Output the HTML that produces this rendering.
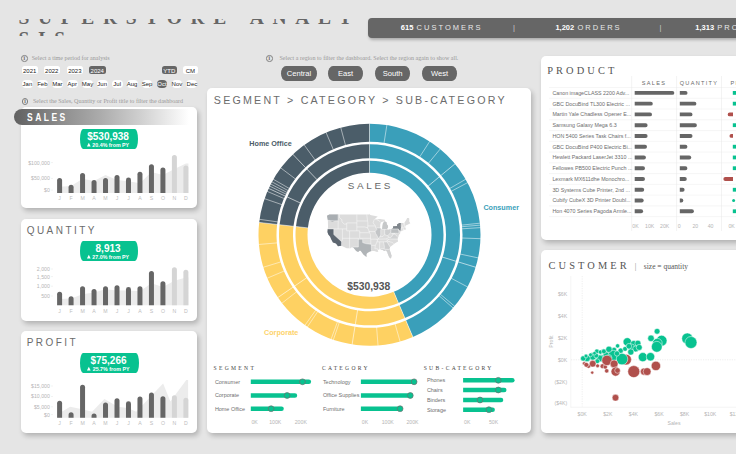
<!DOCTYPE html>
<html><head><meta charset="utf-8"><title>Superstore Analysis</title>
<style>
*{margin:0;padding:0;box-sizing:border-box}
html,body{width:736px;height:454px;overflow:hidden;background:#e5e5e5;font-family:"Liberation Sans",Arial,sans-serif}
.abs{position:absolute}
.card{position:absolute;background:#fff;border-radius:5px;box-shadow:2px 3px 5px rgba(0,0,0,0.22)}
.title{position:absolute;left:0;top:19px;width:370px;height:17px;overflow:hidden}
.title div{position:absolute;left:18.4px;top:-12.2px;width:400px;font-family:"Liberation Serif",serif;font-weight:bold;font-size:19.5px;line-height:21.2px;letter-spacing:8.7px;word-spacing:2.2px;color:#666;white-space:nowrap}
.kpi{position:absolute;left:368px;top:17.5px;width:380px;height:20.5px;background:#666;border-radius:4px;box-shadow:1px 2px 3px rgba(0,0,0,0.25);color:#fff;font-size:7.5px}
.kpi span{position:absolute;top:5.5px;white-space:nowrap;letter-spacing:2px;color:#e8e8e8}
.kpi b{letter-spacing:0;color:#fff;font-weight:bold;margin-right:-0.8px}
.info{position:absolute;font-family:"Liberation Serif",serif;font-size:6.07px;color:#999;white-space:nowrap}
.ic{position:absolute;width:6.6px;height:6.6px;border:0.8px solid #808080;border-radius:50%;font-family:"Liberation Serif",serif;font-size:5.5px;line-height:5.6px;text-align:center;color:#666;font-weight:bold}
.btn{position:absolute;height:8.1px;background:#fff;border-radius:2.5px;font-size:6px;line-height:9px;text-align:center;color:#222}
.btn.on{background:#666;color:#fff}
.rb{position:absolute;top:66.1px;height:14.9px;width:35.2px;background:#666;border-radius:5px/7.4px;color:#fff;font-size:7.6px;line-height:16.6px;text-align:center}
.ktitle{position:absolute;font-size:10.5px;letter-spacing:3.6px;color:#595959}
.pill{position:absolute;left:14px;top:108.6px;width:175px;height:16.4px;border-radius:8px 0 0 8px;background:linear-gradient(90deg,#616161 0%,#6f6f6f 9%,#8c8c8c 26%,#ababab 49%,#cfcfcf 72%,#f1f1f1 92%,#fff 100%);}
.pill span{position:absolute;left:12.6px;top:3px;font-size:10.4px;font-weight:bold;letter-spacing:3px;color:#fff;transform:scaleX(0.82);transform-origin:0 0}
.badge{position:absolute;background:#08c290;border-radius:3px/10px;color:#fff;text-align:center}
.bb{font-weight:bold;font-size:10px;line-height:10px;margin-top:3px;padding-right:2px}
.bs{font-weight:bold;font-size:5.3px;line-height:6px;margin-top:-0.2px;padding-right:2.4px}.bs svg{position:static;display:inline-block;width:3.6px;height:3.5px;margin-right:2.1px;vertical-align:-0.1px;overflow:visible}
svg{position:absolute;left:0;top:0}
svg text{font-family:"Liberation Sans",Arial,sans-serif}
.yl{font-size:5.2px;fill:#b5b5b5}
.xl{font-size:5.2px;fill:#bdbdbd}
.pn{font-size:5.34px;fill:#6d6d6d}
.th{font-size:5.6px;fill:#6a6a6a;letter-spacing:1.3px}
.st{font-family:"Liberation Serif",serif !important;font-size:5.6px;fill:#444;letter-spacing:2.3px}
.bl{font-size:5.45px;fill:#6f6f6f}
.kt{font-size:10px;letter-spacing:2.45px;fill:#6c6c6c}
.sert{font-family:"Liberation Serif",serif !important;font-size:10.4px;letter-spacing:3.1px;fill:#555}
.sertitle{position:absolute;font-family:"Liberation Serif",serif;font-size:10.5px;letter-spacing:5.4px;color:#555}
</style></head><body>

<div class="title"><div>SUPERSTORE ANALY<br>SIS</div></div>
<div class="kpi"><span style="left:32.8px"><b>615</b> CUSTOMERS</span><span style="left:145px;color:#ccc">|</span><span style="left:187.4px"><b>1,202</b> ORDERS</span><span style="left:291.5px;color:#ccc">|</span><span style="left:327.3px"><b>1,313</b> PRODUCTS</span></div>
<div class="ic" style="left:21px;top:55.2px">i</div><div class="info" style="left:31.7px;top:55.2px">Select a time period for analysis</div>
<div class="btn" style="left:21.5px;top:66.3px;width:16.3px;line-height:10px">2021</div>
<div class="btn" style="left:44px;top:66.3px;width:15.6px;line-height:10px">2022</div>
<div class="btn" style="left:67px;top:66.3px;width:15.7px;line-height:10px">2023</div>
<div class="btn on" style="left:88.8px;top:66.3px;width:17.0px;line-height:10px">2024</div>
<div class="btn on" style="left:161.8px;top:66.3px;width:15.0px;line-height:10px">YTD</div>
<div class="btn" style="left:182.9px;top:66.3px;width:14.9px;line-height:10px">CM</div>
<div class="btn" style="left:22.00px;top:79.8px;width:10.9px;border-radius:4px">Jan</div>
<div class="btn" style="left:36.95px;top:79.8px;width:10.9px;border-radius:4px">Feb</div>
<div class="btn" style="left:51.90px;top:79.8px;width:10.9px;border-radius:4px">Mar</div>
<div class="btn" style="left:66.85px;top:79.8px;width:10.9px;border-radius:4px">Apr</div>
<div class="btn" style="left:81.80px;top:79.8px;width:10.9px;border-radius:4px">May</div>
<div class="btn" style="left:96.75px;top:79.8px;width:10.9px;border-radius:4px">Jun</div>
<div class="btn" style="left:111.70px;top:79.8px;width:10.9px;border-radius:4px">Jul</div>
<div class="btn" style="left:126.65px;top:79.8px;width:10.9px;border-radius:4px">Aug</div>
<div class="btn" style="left:141.60px;top:79.8px;width:10.9px;border-radius:4px">Sep</div>
<div class="btn on" style="left:156.55px;top:79.8px;width:10.9px;border-radius:4px">Oct</div>
<div class="btn" style="left:171.50px;top:79.8px;width:10.9px;border-radius:4px">Nov</div>
<div class="btn" style="left:186.45px;top:79.8px;width:10.9px;border-radius:4px">Dec</div>
<div class="ic" style="left:21.8px;top:98.3px">i</div><div class="info" style="left:33px;top:98.2px">Select the Sales, Quantity or Profit title to filter the dashboard</div>
<div class="card" style="left:20.5px;top:107px;width:176.5px;height:101.4px"></div>
<div class="card" style="left:20.5px;top:219.1px;width:176.5px;height:101.6px"></div>
<div class="card" style="left:20.7px;top:331.2px;width:176.3px;height:101.9px"></div>
<div class="card" style="left:207px;top:88.3px;width:323.5px;height:344.4px"></div>
<div class="card" style="left:540.8px;top:56.3px;width:230px;height:183.9px"></div>
<div class="card" style="left:540.9px;top:250px;width:230px;height:182.5px"></div>
<div class="ic" style="left:266px;top:55.3px">i</div><div class="info" style="left:279.4px;top:55.4px">Select a region to filter the dashboard. Select the region again to show all.</div>
<div class="rb" style="left:281.4px">Central</div>
<div class="rb" style="left:328px">East</div>
<div class="rb" style="left:375px">South</div>
<div class="rb" style="left:422px">West</div>
<div class="pill"><span>SALES</span></div>
<svg width="736" height="454" viewBox="0 0 736 454">
<polygon points="57.1,192.9 59.6,186.7 71.1,186.0 82.6,178.7 94.0,181.0 105.5,175.0 117.0,180.0 128.5,181.3 140.0,183.3 151.4,172.0 162.9,175.0 174.4,169.0 185.9,163.5 188.4,163.5 188.4,192.9" fill="#ececec"/>
<path d="M57.10,192.90 V180.40 A2.50,2.50 0 0 1 62.10,180.40 V192.90 Z" fill="#666666"/>
<path d="M68.58,192.90 V187.30 A2.50,2.50 0 0 1 73.58,187.30 V192.90 Z" fill="#666666"/>
<path d="M80.06,192.90 V175.40 A2.50,2.50 0 0 1 85.06,175.40 V192.90 Z" fill="#666666"/>
<path d="M91.54,192.90 V182.50 A2.50,2.50 0 0 1 96.54,182.50 V192.90 Z" fill="#666666"/>
<path d="M103.02,192.90 V180.40 A2.50,2.50 0 0 1 108.02,180.40 V192.90 Z" fill="#666666"/>
<path d="M114.50,192.90 V177.60 A2.50,2.50 0 0 1 119.50,177.60 V192.90 Z" fill="#666666"/>
<path d="M125.98,192.90 V179.90 A2.50,2.50 0 0 1 130.98,179.90 V192.90 Z" fill="#666666"/>
<path d="M137.46,192.90 V174.30 A2.50,2.50 0 0 1 142.46,174.30 V192.90 Z" fill="#666666"/>
<path d="M148.94,192.90 V166.70 A2.50,2.50 0 0 1 153.94,166.70 V192.90 Z" fill="#666666"/>
<path d="M160.42,192.90 V170.00 A2.50,2.50 0 0 1 165.42,170.00 V192.90 Z" fill="#666666"/>
<path d="M171.90,192.90 V157.40 A2.50,2.50 0 0 1 176.90,157.40 V192.90 Z" fill="#d5d5d5"/>
<path d="M183.38,192.90 V168.00 A2.50,2.50 0 0 1 188.38,168.00 V192.90 Z" fill="#d5d5d5"/>
<text x="49.8" y="164.5" class="yl" text-anchor="end">$100,000</text>
<line x1="51" x2="53" y1="162.6" y2="162.6" stroke="#e4e4e4" stroke-width="0.5"/>
<text x="49.8" y="180.3" class="yl" text-anchor="end">$50,000</text>
<line x1="51" x2="53" y1="178.4" y2="178.4" stroke="#e4e4e4" stroke-width="0.5"/>
<text x="49.8" y="192.0" class="yl" text-anchor="end">$0</text>
<line x1="51" x2="53" y1="190.1" y2="190.1" stroke="#e4e4e4" stroke-width="0.5"/>
<text x="59.6" y="199.9" class="xl" text-anchor="middle">J</text>
<text x="71.1" y="199.9" class="xl" text-anchor="middle">F</text>
<text x="82.6" y="199.9" class="xl" text-anchor="middle">M</text>
<text x="94.0" y="199.9" class="xl" text-anchor="middle">A</text>
<text x="105.5" y="199.9" class="xl" text-anchor="middle">M</text>
<text x="117.0" y="199.9" class="xl" text-anchor="middle">J</text>
<text x="128.5" y="199.9" class="xl" text-anchor="middle">J</text>
<text x="140.0" y="199.9" class="xl" text-anchor="middle">A</text>
<text x="151.4" y="199.9" class="xl" text-anchor="middle">S</text>
<text x="162.9" y="199.9" class="xl" text-anchor="middle">O</text>
<text x="174.4" y="199.9" class="xl" text-anchor="middle">N</text>
<text x="185.9" y="199.9" class="xl" text-anchor="middle">D</text>
<polygon points="57.1,305.2 59.6,299.1 71.1,298.6 82.6,294.2 94.0,292.5 105.5,289.3 117.0,290.6 128.5,290.6 140.0,291.3 151.4,283.2 162.9,286.9 174.4,280.8 185.9,277.6 188.4,277.6 188.4,305.2" fill="#ececec"/>
<path d="M57.10,305.20 V294.30 A2.50,2.50 0 0 1 62.10,294.30 V305.20 Z" fill="#666666"/>
<path d="M68.58,305.20 V298.70 A2.50,2.50 0 0 1 73.58,298.70 V305.20 Z" fill="#666666"/>
<path d="M80.06,305.20 V288.70 A2.50,2.50 0 0 1 85.06,288.70 V305.20 Z" fill="#666666"/>
<path d="M91.54,305.20 V291.40 A2.50,2.50 0 0 1 96.54,291.40 V305.20 Z" fill="#666666"/>
<path d="M103.02,305.20 V288.70 A2.50,2.50 0 0 1 108.02,288.70 V305.20 Z" fill="#666666"/>
<path d="M114.50,305.20 V287.70 A2.50,2.50 0 0 1 119.50,287.70 V305.20 Z" fill="#666666"/>
<path d="M125.98,305.20 V289.40 A2.50,2.50 0 0 1 130.98,289.40 V305.20 Z" fill="#666666"/>
<path d="M137.46,305.20 V288.70 A2.50,2.50 0 0 1 142.46,288.70 V305.20 Z" fill="#666666"/>
<path d="M148.94,305.20 V273.50 A2.50,2.50 0 0 1 153.94,273.50 V305.20 Z" fill="#666666"/>
<path d="M160.42,305.20 V283.80 A2.50,2.50 0 0 1 165.42,283.80 V305.20 Z" fill="#666666"/>
<path d="M171.90,305.20 V269.80 A2.50,2.50 0 0 1 176.90,269.80 V305.20 Z" fill="#d5d5d5"/>
<path d="M183.38,305.20 V272.30 A2.50,2.50 0 0 1 188.38,272.30 V305.20 Z" fill="#d5d5d5"/>
<text x="49.8" y="270.9" class="yl" text-anchor="end">2,000</text>
<line x1="51" x2="53" y1="269.0" y2="269.0" stroke="#e4e4e4" stroke-width="0.5"/>
<text x="49.8" y="278.5" class="yl" text-anchor="end">1,500</text>
<line x1="51" x2="53" y1="276.6" y2="276.6" stroke="#e4e4e4" stroke-width="0.5"/>
<text x="49.8" y="288.1" class="yl" text-anchor="end">1,000</text>
<line x1="51" x2="53" y1="286.2" y2="286.2" stroke="#e4e4e4" stroke-width="0.5"/>
<text x="49.8" y="297.9" class="yl" text-anchor="end">500</text>
<line x1="51" x2="53" y1="296.0" y2="296.0" stroke="#e4e4e4" stroke-width="0.5"/>
<text x="59.6" y="312.6" class="xl" text-anchor="middle">J</text>
<text x="71.1" y="312.6" class="xl" text-anchor="middle">F</text>
<text x="82.6" y="312.6" class="xl" text-anchor="middle">M</text>
<text x="94.0" y="312.6" class="xl" text-anchor="middle">A</text>
<text x="105.5" y="312.6" class="xl" text-anchor="middle">M</text>
<text x="117.0" y="312.6" class="xl" text-anchor="middle">J</text>
<text x="128.5" y="312.6" class="xl" text-anchor="middle">J</text>
<text x="140.0" y="312.6" class="xl" text-anchor="middle">A</text>
<text x="151.4" y="312.6" class="xl" text-anchor="middle">S</text>
<text x="162.9" y="312.6" class="xl" text-anchor="middle">O</text>
<text x="174.4" y="312.6" class="xl" text-anchor="middle">N</text>
<text x="185.9" y="312.6" class="xl" text-anchor="middle">D</text>
<polygon points="57.1,417.8 57.1,411.5 62.8,411.2 70.1,406.8 82.4,409.2 92.1,411.7 104.4,399.0 117.8,406.8 127.6,408.0 136.2,411.7 146.0,401.4 163.1,383.6 170.4,401.4 186.3,379.9 188.1,380.0 188.1,417.8" fill="#ececec"/>
<path d="M57.10,417.80 V403.20 A2.50,2.50 0 0 1 62.10,403.20 V417.80 Z" fill="#666666"/>
<path d="M68.58,417.80 V414.70 A2.50,2.50 0 0 1 73.58,414.70 V417.80 Z" fill="#666666"/>
<path d="M80.06,417.80 V387.30 A2.50,2.50 0 0 1 85.06,387.30 V417.80 Z" fill="#666666"/>
<path d="M91.54,417.80 V416.10 A2.50,2.50 0 0 1 96.54,416.10 V417.80 Z" fill="#666666"/>
<path d="M103.02,417.80 V404.90 A2.50,2.50 0 0 1 108.02,404.90 V417.80 Z" fill="#666666"/>
<path d="M114.50,417.80 V400.70 A2.50,2.50 0 0 1 119.50,400.70 V417.80 Z" fill="#666666"/>
<path d="M125.98,417.80 V403.70 A2.50,2.50 0 0 1 130.98,403.70 V417.80 Z" fill="#666666"/>
<path d="M137.46,417.80 V399.00 A2.50,2.50 0 0 1 142.46,399.00 V417.80 Z" fill="#666666"/>
<path d="M148.94,417.80 V395.10 A2.50,2.50 0 0 1 153.94,395.10 V417.80 Z" fill="#666666"/>
<path d="M160.42,417.80 V398.80 A2.50,2.50 0 0 1 165.42,398.80 V417.80 Z" fill="#666666"/>
<path d="M171.90,417.80 V397.80 A2.50,2.50 0 0 1 176.90,397.80 V417.80 Z" fill="#d5d5d5"/>
<path d="M183.38,417.80 V400.20 A2.50,2.50 0 0 1 188.38,400.20 V417.80 Z" fill="#d5d5d5"/>
<text x="49.8" y="387.9" class="yl" text-anchor="end">$15,000</text>
<line x1="51" x2="53" y1="386.0" y2="386.0" stroke="#e4e4e4" stroke-width="0.5"/>
<text x="49.8" y="398.4" class="yl" text-anchor="end">$10,000</text>
<line x1="51" x2="53" y1="396.5" y2="396.5" stroke="#e4e4e4" stroke-width="0.5"/>
<text x="49.8" y="408.7" class="yl" text-anchor="end">$5,000</text>
<line x1="51" x2="53" y1="406.8" y2="406.8" stroke="#e4e4e4" stroke-width="0.5"/>
<text x="49.8" y="416.5" class="yl" text-anchor="end">$0</text>
<line x1="51" x2="53" y1="414.6" y2="414.6" stroke="#e4e4e4" stroke-width="0.5"/>
<text x="59.6" y="425.4" class="xl" text-anchor="middle">J</text>
<text x="71.1" y="425.4" class="xl" text-anchor="middle">F</text>
<text x="82.6" y="425.4" class="xl" text-anchor="middle">M</text>
<text x="94.0" y="425.4" class="xl" text-anchor="middle">A</text>
<text x="105.5" y="425.4" class="xl" text-anchor="middle">M</text>
<text x="117.0" y="425.4" class="xl" text-anchor="middle">J</text>
<text x="128.5" y="425.4" class="xl" text-anchor="middle">J</text>
<text x="140.0" y="425.4" class="xl" text-anchor="middle">A</text>
<text x="151.4" y="425.4" class="xl" text-anchor="middle">S</text>
<text x="162.9" y="425.4" class="xl" text-anchor="middle">O</text>
<text x="174.4" y="425.4" class="xl" text-anchor="middle">N</text>
<text x="185.9" y="425.4" class="xl" text-anchor="middle">D</text>
<path d="M369.50,160.80 A74,74 0 0 1 398.41,302.92 L393.73,291.87 A62,62 0 0 0 369.50,172.80 Z" fill="#3a9fba"/>
<path d="M398.41,302.92 A74,74 0 0 1 295.96,226.55 L307.89,227.89 A62,62 0 0 0 393.73,291.87 Z" fill="#fed162"/>
<path d="M295.96,226.55 A74,74 0 0 1 369.50,160.80 L369.50,172.80 A62,62 0 0 0 307.89,227.89 Z" fill="#4b5d69"/>
<path d="M369.50,144.30 A90.5,90.5 0 0 1 404.86,318.11 L399.39,305.22 A76.5,76.5 0 0 0 369.50,158.30 Z" fill="#3a9fba"/>
<path d="M404.86,318.11 A90.5,90.5 0 0 1 279.56,224.71 L293.48,226.27 A76.5,76.5 0 0 0 399.39,305.22 Z" fill="#fed162"/>
<path d="M279.56,224.71 A90.5,90.5 0 0 1 369.50,144.30 L369.50,158.30 A76.5,76.5 0 0 0 293.48,226.27 Z" fill="#4b5d69"/>
<path d="M369.50,123.80 A111,111 0 0 1 412.87,336.98 L405.84,320.41 A93,93 0 0 0 369.50,141.80 Z" fill="#3a9fba"/>
<path d="M412.87,336.98 A111,111 0 0 1 259.19,222.43 L277.08,224.43 A93,93 0 0 0 405.84,320.41 Z" fill="#fed162"/>
<path d="M259.19,222.43 A111,111 0 0 1 369.50,123.80 L369.50,141.80 A93,93 0 0 0 277.08,224.43 Z" fill="#4b5d69"/>
<line x1="369.50" y1="173.30" x2="369.50" y2="160.30" stroke="#fff" stroke-width="0.5"/>
<line x1="369.50" y1="158.80" x2="369.50" y2="143.80" stroke="#fff" stroke-width="0.5"/>
<line x1="369.50" y1="142.30" x2="369.50" y2="123.30" stroke="#fff" stroke-width="0.5"/>
<line x1="393.53" y1="291.41" x2="398.61" y2="303.38" stroke="#fff" stroke-width="0.5"/>
<line x1="399.20" y1="304.76" x2="405.06" y2="318.57" stroke="#fff" stroke-width="0.5"/>
<line x1="405.64" y1="319.95" x2="413.07" y2="337.44" stroke="#fff" stroke-width="0.5"/>
<line x1="308.38" y1="227.94" x2="295.46" y2="226.50" stroke="#fff" stroke-width="0.5"/>
<line x1="293.97" y1="226.33" x2="279.07" y2="224.66" stroke="#fff" stroke-width="0.5"/>
<line x1="277.58" y1="224.49" x2="258.69" y2="222.37" stroke="#fff" stroke-width="0.5"/>
<line x1="427.97" y1="186.25" x2="439.52" y2="176.67" stroke="#fff" stroke-width="0.6"/>
<line x1="440.67" y1="175.71" x2="455.29" y2="163.58" stroke="#fff" stroke-width="0.6"/>
<line x1="442.18" y1="257.02" x2="456.52" y2="261.41" stroke="#fff" stroke-width="0.6"/>
<line x1="457.96" y1="261.84" x2="476.13" y2="267.40" stroke="#fff" stroke-width="0.6"/>
<line x1="357.61" y1="309.86" x2="355.26" y2="324.68" stroke="#fff" stroke-width="0.6"/>
<line x1="355.03" y1="326.16" x2="352.06" y2="344.93" stroke="#fff" stroke-width="0.6"/>
<line x1="306.79" y1="277.74" x2="294.41" y2="286.21" stroke="#fff" stroke-width="0.6"/>
<line x1="293.18" y1="287.06" x2="277.50" y2="297.79" stroke="#fff" stroke-width="0.6"/>
<line x1="300.45" y1="203.04" x2="286.83" y2="196.77" stroke="#fff" stroke-width="0.6"/>
<line x1="285.46" y1="196.15" x2="268.20" y2="188.21" stroke="#fff" stroke-width="0.6"/>
<line x1="317.09" y1="179.76" x2="306.74" y2="168.90" stroke="#fff" stroke-width="0.6"/>
<line x1="305.71" y1="167.81" x2="292.61" y2="154.05" stroke="#fff" stroke-width="0.6"/>
<line x1="383.97" y1="143.44" x2="386.94" y2="124.67" stroke="#fff" stroke-width="0.5"/>
<line x1="419.61" y1="157.05" x2="429.90" y2="141.08" stroke="#fff" stroke-width="0.5"/>
<line x1="428.34" y1="163.42" x2="440.42" y2="148.76" stroke="#fff" stroke-width="0.5"/>
<line x1="449.61" y1="188.55" x2="466.06" y2="179.05" stroke="#fff" stroke-width="0.5"/>
<line x1="451.17" y1="191.37" x2="467.95" y2="182.45" stroke="#fff" stroke-width="0.5"/>
<line x1="461.49" y1="225.13" x2="480.39" y2="223.15" stroke="#fff" stroke-width="0.5"/>
<line x1="461.65" y1="226.74" x2="480.58" y2="225.08" stroke="#fff" stroke-width="0.5"/>
<line x1="461.81" y1="228.83" x2="480.77" y2="227.60" stroke="#fff" stroke-width="0.5"/>
<line x1="461.94" y1="238.03" x2="480.93" y2="238.69" stroke="#fff" stroke-width="0.5"/>
<line x1="459.98" y1="254.03" x2="478.56" y2="257.98" stroke="#fff" stroke-width="0.5"/>
<line x1="451.17" y1="278.23" x2="467.95" y2="287.15" stroke="#fff" stroke-width="0.5"/>
<line x1="440.36" y1="294.26" x2="454.91" y2="306.47" stroke="#fff" stroke-width="0.5"/>
<line x1="439.10" y1="295.73" x2="453.39" y2="308.24" stroke="#fff" stroke-width="0.5"/>
<line x1="395.00" y1="323.72" x2="400.23" y2="341.98" stroke="#fff" stroke-width="0.5"/>
<line x1="376.60" y1="327.03" x2="378.05" y2="345.97" stroke="#fff" stroke-width="0.5"/>
<line x1="339.38" y1="322.26" x2="333.20" y2="340.23" stroke="#fff" stroke-width="0.5"/>
<line x1="337.56" y1="321.61" x2="331.00" y2="339.44" stroke="#fff" stroke-width="0.5"/>
<line x1="317.77" y1="311.49" x2="307.15" y2="327.24" stroke="#fff" stroke-width="0.5"/>
<line x1="315.78" y1="310.11" x2="304.75" y2="325.57" stroke="#fff" stroke-width="0.5"/>
<line x1="296.61" y1="291.75" x2="281.64" y2="303.45" stroke="#fff" stroke-width="0.5"/>
<line x1="284.35" y1="270.94" x2="266.86" y2="278.37" stroke="#fff" stroke-width="0.5"/>
<line x1="281.04" y1="261.84" x2="262.87" y2="267.40" stroke="#fff" stroke-width="0.5"/>
<line x1="277.35" y1="242.86" x2="258.42" y2="244.52" stroke="#fff" stroke-width="0.5"/>
<line x1="277.90" y1="221.93" x2="259.09" y2="219.28" stroke="#fff" stroke-width="0.5"/>
<line x1="282.04" y1="204.68" x2="264.07" y2="198.50" stroke="#fff" stroke-width="0.5"/>
<line x1="284.35" y1="198.66" x2="266.86" y2="191.23" stroke="#fff" stroke-width="0.5"/>
<line x1="286.36" y1="194.25" x2="269.28" y2="185.92" stroke="#fff" stroke-width="0.5"/>
<line x1="287.23" y1="192.52" x2="270.33" y2="183.83" stroke="#fff" stroke-width="0.5"/>
<line x1="288.21" y1="190.66" x2="271.51" y2="181.60" stroke="#fff" stroke-width="0.5"/>
<line x1="289.39" y1="188.55" x2="272.94" y2="179.05" stroke="#fff" stroke-width="0.5"/>
<line x1="295.63" y1="179.13" x2="280.45" y2="167.70" stroke="#fff" stroke-width="0.5"/>
<line x1="315.13" y1="159.97" x2="303.96" y2="144.59" stroke="#fff" stroke-width="0.5"/>
<line x1="333.36" y1="149.65" x2="325.93" y2="132.16" stroke="#fff" stroke-width="0.5"/>
<line x1="345.56" y1="145.45" x2="340.64" y2="127.10" stroke="#fff" stroke-width="0.5"/>
<text x="347.7" y="189.3" style="font-size:9.9px;letter-spacing:2.7px;fill:#666">SALES</text>
<polygon points="327.00,215.76 329.31,214.44 369.63,214.44 369.63,213.56 370.21,215.10 377.72,216.62 374.25,219.40 380.03,218.97 384.94,219.82 384.80,221.28 381.48,221.90 380.32,223.94 380.18,227.92 380.75,229.48 382.20,228.51 382.49,225.95 382.92,223.33 384.66,221.28 386.53,222.31 386.82,224.34 387.98,225.75 388.12,227.14 387.11,228.71 386.53,229.48 388.70,229.87 390.87,228.90 393.04,227.92 393.04,226.35 396.07,226.35 397.08,225.95 396.94,224.55 399.25,222.92 403.87,222.92 404.89,222.10 406.04,220.23 407.20,217.91 408.64,218.12 409.22,218.55 409.22,221.48 410.38,223.33 407.49,224.75 405.75,225.55 405.17,226.74 405.32,227.73 406.04,229.29 405.03,229.87 403.30,230.25 401.71,231.02 400.26,231.78 400.26,233.29 398.82,234.97 398.53,236.45 397.52,238.45 398.09,241.49 396.65,242.37 394.63,243.60 392.75,244.98 390.44,246.87 389.57,247.89 389.71,249.91 390.72,252.90 391.59,255.83 391.01,258.25 390.15,258.25 388.99,256.80 387.83,253.88 387.26,251.91 385.81,250.25 384.37,250.91 382.20,249.75 380.03,249.24 377.72,250.08 378.30,251.58 377.14,251.91 374.25,251.08 371.65,250.91 369.92,251.58 367.60,252.73 366.45,254.05 366.45,257.12 363.41,254.54 360.67,250.75 359.22,250.75 358.21,252.08 356.19,251.08 353.30,247.38 350.84,247.38 350.84,248.23 346.65,248.23 341.45,245.85 337.98,246.19 335.96,243.60 332.92,242.55 331.05,238.99 330.18,236.82 328.30,234.60 327.43,231.97 328.01,226.94 327.87,220.23" fill="#dcdcdc"/>
<polygon points="327.72,228.90 333.79,228.90 333.79,234.60 341.59,241.67 341.45,245.85 337.98,246.19 335.96,243.60 332.92,242.55 331.05,238.99 330.18,236.82 328.30,234.60 327.43,231.97" fill="#5d6670"/>
<polygon points="327.00,215.76 329.31,214.44 338.13,214.44 338.13,220.86 335.24,220.86 332.35,221.69 329.46,220.44 327.87,220.23" fill="#a9aeb2"/>
<polygon points="353.15,247.04 358.36,247.04 358.36,239.17 362.69,239.17 362.69,242.55 365.58,243.60 368.47,243.94 371.36,244.29 371.36,248.74 371.65,250.91 369.92,251.58 367.60,252.73 366.45,254.05 366.45,257.12 363.41,254.54 360.67,250.75 359.22,250.75 358.21,252.08 356.19,251.08 353.30,247.38" fill="#b0b4b7"/>
<polygon points="391.88,228.90 398.24,228.90 399.25,230.06 400.69,230.64 400.98,228.90 401.27,222.92 399.25,222.92 396.94,224.55 397.08,225.95 393.04,226.35 393.04,227.92" fill="#80878d"/>
<polygon points="390.87,228.90 398.24,228.90 398.67,230.83 399.25,232.35 398.09,233.29 390.87,233.29" fill="#bcbfc1"/>
<polygon points="376.27,227.92 380.32,227.92 380.75,229.48 380.75,234.97 379.89,236.82 378.30,238.27 377.86,237.73 376.85,235.34 375.70,233.67 375.12,231.59 376.85,229.29" fill="#c3c5c7"/>
<polygon points="382.20,228.51 382.49,225.95 382.92,223.33 384.66,221.28 386.53,222.31 386.82,224.34 387.98,225.75 388.12,227.14 387.11,228.71 386.53,229.48 381.48,229.37" fill="#c6c8c9"/>
<polygon points="384.66,229.48 386.53,229.48 388.70,229.87 390.87,228.90 390.87,231.59 390.58,232.73 389.13,234.23 387.83,235.71 386.25,235.34 384.66,234.42" fill="#cfd0d1"/>
<polygon points="380.75,249.91 380.61,248.74 384.37,248.74 384.51,249.24 388.41,249.41 389.42,249.24 389.71,249.91 390.72,252.90 391.59,255.83 391.01,258.25 390.15,258.25 388.99,256.80 387.83,253.88 387.26,251.91 385.81,250.25 384.37,250.91 382.20,249.75" fill="#d0d1d2"/>
<polygon points="383.50,241.84 387.11,241.84 388.41,244.29 390.15,247.04 389.57,247.89 389.42,249.24 388.41,249.41 384.51,249.24 384.22,248.74 384.37,246.53" fill="#cdcecf"/>
<polygon points="386.25,238.99 397.52,239.08 397.52,238.45 396.94,236.45 395.93,234.97 394.92,234.04 393.90,234.04 392.31,235.53 391.59,236.82 390.15,237.73 388.70,237.36" fill="#d2d3d4"/>
<polyline points="328.01,220.34 335.24,220.86 338.13,220.86" fill="none" stroke="#fff" stroke-width="0.45"/>
<polyline points="338.13,214.44 338.13,220.86 338.27,221.90 338.13,224.95 338.13,228.90" fill="none" stroke="#fff" stroke-width="0.45"/>
<polyline points="327.72,228.90 346.72,228.90" fill="none" stroke="#fff" stroke-width="0.45"/>
<polyline points="339.57,214.44 339.57,217.70 341.74,219.61 342.03,221.90 343.18,223.13 344.20,224.14 346.72,223.94" fill="none" stroke="#fff" stroke-width="0.45"/>
<polyline points="346.72,222.92 346.72,230.83 349.61,230.83" fill="none" stroke="#fff" stroke-width="0.45"/>
<polyline points="346.72,222.92 356.84,222.92" fill="none" stroke="#fff" stroke-width="0.45"/>
<polyline points="356.84,214.44 356.84,230.83" fill="none" stroke="#fff" stroke-width="0.45"/>
<polyline points="349.61,230.83 359.73,230.83 359.73,238.27" fill="none" stroke="#fff" stroke-width="0.45"/>
<polyline points="333.79,228.90 333.79,234.60 341.59,241.67 341.45,245.85" fill="none" stroke="#fff" stroke-width="0.45"/>
<polyline points="342.39,228.90 342.39,239.89 341.59,241.67" fill="none" stroke="#fff" stroke-width="0.45"/>
<polyline points="342.39,238.27 358.36,238.27" fill="none" stroke="#fff" stroke-width="0.45"/>
<polyline points="349.61,230.83 349.61,248.23" fill="none" stroke="#fff" stroke-width="0.45"/>
<polyline points="358.36,238.27 358.36,247.04 353.15,247.04" fill="none" stroke="#fff" stroke-width="0.45"/>
<polyline points="356.84,220.99 367.60,220.99" fill="none" stroke="#fff" stroke-width="0.45"/>
<polyline points="356.84,226.94 364.86,226.94 367.75,227.92" fill="none" stroke="#fff" stroke-width="0.45"/>
<polyline points="359.73,232.73 369.48,232.73" fill="none" stroke="#fff" stroke-width="0.45"/>
<polyline points="359.73,238.27 370.49,238.27" fill="none" stroke="#fff" stroke-width="0.45"/>
<polyline points="358.36,239.17 362.69,239.17 362.69,242.55 365.58,243.60 368.47,243.94 371.36,244.29 371.36,248.74 371.65,250.91" fill="none" stroke="#fff" stroke-width="0.45"/>
<polyline points="366.74,214.44 367.60,221.07 367.82,222.31 367.82,225.95 367.60,227.92 368.62,229.87 369.48,232.73 370.49,234.42 370.49,239.17" fill="none" stroke="#fff" stroke-width="0.45"/>
<polyline points="367.82,225.95 375.41,225.95" fill="none" stroke="#fff" stroke-width="0.45"/>
<polyline points="375.41,225.95 373.10,222.92 373.82,220.65 374.25,219.40" fill="none" stroke="#fff" stroke-width="0.45"/>
<polyline points="368.76,231.59 375.12,231.59" fill="none" stroke="#fff" stroke-width="0.45"/>
<polyline points="370.49,239.17 377.00,239.17 377.00,240.07 377.57,240.07" fill="none" stroke="#fff" stroke-width="0.45"/>
<polyline points="370.78,239.17 370.78,244.29" fill="none" stroke="#fff" stroke-width="0.45"/>
<polyline points="371.36,245.33 375.41,245.33" fill="none" stroke="#fff" stroke-width="0.45"/>
<polyline points="375.41,245.33 374.83,248.74 377.57,248.74 377.72,250.08" fill="none" stroke="#fff" stroke-width="0.45"/>
<polyline points="375.41,245.33 377.00,241.84 377.86,239.17 378.30,238.27" fill="none" stroke="#fff" stroke-width="0.45"/>
<polyline points="375.41,225.95 375.55,227.53 376.85,229.29 375.12,231.59 375.70,233.67 376.85,235.34 377.86,237.73 378.30,238.27" fill="none" stroke="#fff" stroke-width="0.45"/>
<polyline points="376.27,227.92 380.32,227.92" fill="none" stroke="#fff" stroke-width="0.45"/>
<polyline points="380.32,222.31 379.31,220.86 376.56,219.61" fill="none" stroke="#fff" stroke-width="0.45"/>
<polyline points="380.75,229.48 380.75,234.97 379.89,236.82" fill="none" stroke="#fff" stroke-width="0.45"/>
<polyline points="384.66,229.48 384.66,234.42" fill="none" stroke="#fff" stroke-width="0.45"/>
<polyline points="381.48,229.37 386.53,229.48" fill="none" stroke="#fff" stroke-width="0.45"/>
<polyline points="379.89,236.82 378.30,238.27" fill="none" stroke="#fff" stroke-width="0.45"/>
<polyline points="379.89,236.82 381.48,236.63 382.92,236.45 383.64,235.71 384.66,234.42 386.25,235.34 387.83,235.71 389.13,234.23 390.58,232.73 390.87,231.59 390.87,228.90" fill="none" stroke="#fff" stroke-width="0.45"/>
<polyline points="390.87,228.90 398.24,228.90 398.67,230.83 399.25,232.35 398.09,233.29" fill="none" stroke="#fff" stroke-width="0.45"/>
<polyline points="390.84,233.26 397.66,233.26" fill="none" stroke="#fff" stroke-width="0.45"/>
<polyline points="401.27,222.92 401.13,225.75 401.35,227.43 400.98,228.80 400.98,230.45 400.69,230.64" fill="none" stroke="#fff" stroke-width="0.45"/>
<polyline points="403.87,222.92 402.43,226.54 402.43,227.53" fill="none" stroke="#fff" stroke-width="0.45"/>
<polyline points="401.35,227.43 404.31,227.33 404.89,227.20" fill="none" stroke="#fff" stroke-width="0.45"/>
<polyline points="404.45,222.31 404.60,226.74 405.03,226.74" fill="none" stroke="#fff" stroke-width="0.45"/>
<polyline points="400.98,228.80 404.02,228.90 404.45,229.87" fill="none" stroke="#fff" stroke-width="0.45"/>
<polyline points="403.44,228.90 403.44,230.25" fill="none" stroke="#fff" stroke-width="0.45"/>
<polyline points="377.86,239.17 386.25,238.99 388.70,237.36 387.83,235.71" fill="none" stroke="#fff" stroke-width="0.45"/>
<polyline points="388.70,237.36 390.15,237.73 391.59,236.82 392.31,235.53 393.90,234.04 394.92,234.04 395.93,234.97 396.94,236.45" fill="none" stroke="#fff" stroke-width="0.45"/>
<polyline points="392.31,233.26 392.31,234.23 393.90,233.48 394.92,234.04" fill="none" stroke="#fff" stroke-width="0.45"/>
<polyline points="386.25,238.99 397.52,239.08" fill="none" stroke="#fff" stroke-width="0.45"/>
<polyline points="389.13,238.99 387.98,240.25 385.38,241.84" fill="none" stroke="#fff" stroke-width="0.45"/>
<polyline points="376.71,241.84 385.38,241.84" fill="none" stroke="#fff" stroke-width="0.45"/>
<polyline points="385.38,241.84 387.11,241.84 388.12,241.49 390.15,241.67 390.44,242.20 392.02,242.20 393.76,243.86" fill="none" stroke="#fff" stroke-width="0.45"/>
<polyline points="387.11,241.84 388.41,244.29 390.15,247.04" fill="none" stroke="#fff" stroke-width="0.45"/>
<polyline points="383.50,241.84 384.37,246.53 384.22,248.74" fill="none" stroke="#fff" stroke-width="0.45"/>
<polyline points="379.74,241.84 379.45,249.75" fill="none" stroke="#fff" stroke-width="0.45"/>
<polyline points="380.61,248.74 384.37,248.74 384.51,249.24 388.41,249.41 389.42,249.24" fill="none" stroke="#fff" stroke-width="0.45"/>
<polyline points="380.61,248.74 380.75,249.91" fill="none" stroke="#fff" stroke-width="0.45"/>
<text x="368.8" y="289.7" text-anchor="middle" style="font-size:10.3px;font-weight:bold;fill:#555">$530,938</text>
<text x="249.3" y="146.1" style="font-size:7.2px;font-weight:bold;fill:#4b5d69">Home Office</text>
<text x="483.4" y="210.2" style="font-size:7.2px;font-weight:bold;fill:#3a9fba">Consumer</text>
<text x="264" y="334.9" style="font-size:7.2px;font-weight:bold;fill:#fdd36b">Corporate</text>
<text x="213.6" y="369.8" class="st">SEGMENT</text>
<text x="321.9" y="369.8" class="st">CATEGORY</text>
<text x="423.7" y="370" class="st">SUB-CATEGORY</text>
<text x="214.9" y="383.7" class="bl">Consumer</text>
<path d="M250.80,379.50 H308.80 A2.30,2.30 0 0 1 308.80,384.10 H250.80 Z" fill="#08c290"/><circle cx="302.5" cy="381.8" r="2.9" fill="#08c290" stroke="#6f6f6f" stroke-width="0.7"/>
<text x="214.9" y="397.4" class="bl">Corporate</text>
<path d="M250.80,393.20 H294.90 A2.30,2.30 0 0 1 294.90,397.80 H250.80 Z" fill="#08c290"/><circle cx="287.1" cy="395.5" r="2.9" fill="#08c290" stroke="#6f6f6f" stroke-width="0.7"/>
<text x="214.9" y="410.59999999999997" class="bl">Home Office</text>
<path d="M250.80,406.40 H281.50 A2.30,2.30 0 0 1 281.50,411.00 H250.80 Z" fill="#08c290"/><circle cx="271.1" cy="408.7" r="2.9" fill="#08c290" stroke="#6f6f6f" stroke-width="0.7"/>
<text x="322.9" y="383.7" class="bl">Technology</text>
<path d="M360.90,379.50 H414.10 A2.30,2.30 0 0 1 414.10,384.10 H360.90 Z" fill="#08c290"/><circle cx="414.1" cy="381.8" r="2.9" fill="#08c290" stroke="#6f6f6f" stroke-width="0.7"/>
<text x="322.9" y="397.4" class="bl">Office Supplies</text>
<path d="M360.90,393.20 H410.50 A2.30,2.30 0 0 1 410.50,397.80 H360.90 Z" fill="#08c290"/><circle cx="410.3" cy="395.5" r="2.9" fill="#08c290" stroke="#6f6f6f" stroke-width="0.7"/>
<text x="322.9" y="410.59999999999997" class="bl">Furniture</text>
<path d="M360.90,406.40 H400.10 A2.30,2.30 0 0 1 400.10,411.00 H360.90 Z" fill="#08c290"/><circle cx="400.1" cy="408.7" r="2.9" fill="#08c290" stroke="#6f6f6f" stroke-width="0.7"/>
<text x="426.9" y="382.2" class="bl">Phones</text>
<path d="M463.10,378.00 H512.30 A2.30,2.30 0 0 1 512.30,382.60 H463.10 Z" fill="#08c290"/><circle cx="498.3" cy="380.3" r="2.9" fill="#08c290" stroke="#6f6f6f" stroke-width="0.7"/>
<text x="426.9" y="391.9" class="bl">Chairs</text>
<path d="M463.10,387.70 H504.20 A2.30,2.30 0 0 1 504.20,392.30 H463.10 Z" fill="#08c290"/><circle cx="498.3" cy="390.0" r="2.9" fill="#08c290" stroke="#6f6f6f" stroke-width="0.7"/>
<text x="426.9" y="401.9" class="bl">Binders</text>
<path d="M463.10,397.70 H501.00 A2.30,2.30 0 0 1 501.00,402.30 H463.10 Z" fill="#08c290"/><circle cx="480.0" cy="400.0" r="2.9" fill="#08c290" stroke="#6f6f6f" stroke-width="0.7"/>
<text x="426.9" y="411.59999999999997" class="bl">Storage</text>
<path d="M463.10,407.40 H492.60 A2.30,2.30 0 0 1 492.60,412.00 H463.10 Z" fill="#08c290"/><circle cx="488.9" cy="409.7" r="2.9" fill="#08c290" stroke="#6f6f6f" stroke-width="0.7"/>
<text x="254.6" y="423.8" class="yl" text-anchor="middle">0K</text>
<text x="275.2" y="423.8" class="yl" text-anchor="middle">100K</text>
<text x="300.8" y="423.8" class="yl" text-anchor="middle">200K</text>
<text x="365" y="423.8" class="yl" text-anchor="middle">0K</text>
<text x="387.7" y="423.8" class="yl" text-anchor="middle">100K</text>
<text x="412.5" y="423.8" class="yl" text-anchor="middle">200K</text>
<text x="467.2" y="423.8" class="yl" text-anchor="middle">0K</text>
<text x="493.6" y="423.8" class="yl" text-anchor="middle">50K</text>
<text x="26.7" y="233.8" class="kt">QUANTITY</text>
<text x="26.7" y="346.3" class="kt">PROFIT</text>
<text x="213.8" y="104.2" class="kt" style="font-size:10.7px;letter-spacing:2.2px">SEGMENT &gt; CATEGORY &gt; SUB-CATEGORY</text>
<text x="547.2" y="74.3" class="sert">PRODUCT</text>
<text x="548.5" y="269.2" class="sert">CUSTOMER</text>
<text x="634.7" y="269" style="font-family:Liberation Serif,serif;font-size:8px;fill:#888">|</text>
<text x="643.8" y="269" style="font-family:Liberation Serif,serif;font-size:7.5px;fill:#555">size = quantity</text>
<line x1="549" x2="736" y1="87.52" y2="87.52" stroke="#ececec" stroke-width="0.5"/>
<text x="552.4" y="94.80" class="pn">Canon imageCLASS 2200 Adv...</text>
<path d="M634.70,90.95 H672.35 A1.95,1.95 0 0 1 672.35,94.85 H634.70 Z" fill="#666666"/>
<path d="M679.80,90.95 H685.55 A1.95,1.95 0 0 1 685.55,94.85 H679.80 Z" fill="#666666"/>
<rect x="732.8" y="91.00" width="6" height="3.8" fill="#08c290"/>
<line x1="549" x2="736" y1="98.28" y2="98.28" stroke="#ececec" stroke-width="0.5"/>
<text x="552.4" y="105.56" class="pn">GBC DocuBind TL300 Electric ...</text>
<path d="M634.70,101.71 H650.85 A1.95,1.95 0 0 1 650.85,105.61 H634.70 Z" fill="#666666"/>
<path d="M679.80,101.71 H694.45 A1.95,1.95 0 0 1 694.45,105.61 H679.80 Z" fill="#666666"/>
<rect x="732.8" y="101.76" width="6" height="3.8" fill="#08c290"/>
<line x1="549" x2="736" y1="109.04" y2="109.04" stroke="#ececec" stroke-width="0.5"/>
<text x="552.4" y="116.32" class="pn">Martin Yale Chadless Opener E...</text>
<path d="M634.70,112.47 H650.05 A1.95,1.95 0 0 1 650.05,116.37 H634.70 Z" fill="#666666"/>
<path d="M679.80,112.47 H690.55 A1.95,1.95 0 0 1 690.55,116.37 H679.80 Z" fill="#666666"/>
<path d="M733,112.52 H729.60 A1.9,1.9 0 0 0 729.60,116.32 H733 Z" fill="#b0504c"/>
<line x1="549" x2="736" y1="119.80" y2="119.80" stroke="#ececec" stroke-width="0.5"/>
<text x="552.4" y="127.08" class="pn">Samsung Galaxy Mega 6.3</text>
<path d="M634.70,123.23 H645.65 A1.95,1.95 0 0 1 645.65,127.13 H634.70 Z" fill="#666666"/>
<path d="M679.80,123.23 H694.95 A1.95,1.95 0 0 1 694.95,127.13 H679.80 Z" fill="#666666"/>
<rect x="732.8" y="123.28" width="6" height="3.8" fill="#08c290"/>
<line x1="549" x2="736" y1="130.56" y2="130.56" stroke="#ececec" stroke-width="0.5"/>
<text x="552.4" y="137.84" class="pn">HON 5400 Series Task Chairs f...</text>
<path d="M634.70,133.99 H645.65 A1.95,1.95 0 0 1 645.65,137.89 H634.70 Z" fill="#666666"/>
<path d="M679.80,133.99 H690.55 A1.95,1.95 0 0 1 690.55,137.89 H679.80 Z" fill="#666666"/>
<path d="M733,134.04 H731.40 A1.9,1.9 0 0 0 731.40,137.84 H733 Z" fill="#b0504c"/>
<line x1="549" x2="736" y1="141.32" y2="141.32" stroke="#ececec" stroke-width="0.5"/>
<text x="552.4" y="148.60" class="pn">GBC DocuBind P400 Electric Bi...</text>
<path d="M634.70,144.75 H645.05 A1.95,1.95 0 0 1 645.05,148.65 H634.70 Z" fill="#666666"/>
<path d="M679.80,144.75 H685.45 A1.95,1.95 0 0 1 685.45,148.65 H679.80 Z" fill="#666666"/>
<rect x="732.8" y="144.80" width="6" height="3.8" fill="#08c290"/>
<line x1="549" x2="736" y1="152.08" y2="152.08" stroke="#ececec" stroke-width="0.5"/>
<text x="552.4" y="159.36" class="pn">Hewlett Packard LaserJet 3310 ...</text>
<path d="M634.70,155.51 H643.95 A1.95,1.95 0 0 1 643.95,159.41 H634.70 Z" fill="#666666"/>
<path d="M679.80,155.51 H689.25 A1.95,1.95 0 0 1 689.25,159.41 H679.80 Z" fill="#666666"/>
<rect x="732.8" y="155.56" width="6" height="3.8" fill="#08c290"/>
<line x1="549" x2="736" y1="162.84" y2="162.84" stroke="#ececec" stroke-width="0.5"/>
<text x="552.4" y="170.12" class="pn">Fellowes PB500 Electric Punch ...</text>
<path d="M634.70,166.27 H643.05 A1.95,1.95 0 0 1 643.05,170.17 H634.70 Z" fill="#666666"/>
<path d="M679.80,166.27 H685.45 A1.95,1.95 0 0 1 685.45,170.17 H679.80 Z" fill="#666666"/>
<rect x="732.8" y="166.32" width="6" height="3.8" fill="#08c290"/>
<line x1="549" x2="736" y1="173.60" y2="173.60" stroke="#ececec" stroke-width="0.5"/>
<text x="552.4" y="180.88" class="pn">Lexmark MX611dhe Monochro...</text>
<path d="M634.70,177.03 H643.05 A1.95,1.95 0 0 1 643.05,180.93 H634.70 Z" fill="#666666"/>
<path d="M679.80,177.03 H684.85 A1.95,1.95 0 0 1 684.85,180.93 H679.80 Z" fill="#666666"/>
<path d="M733,177.08 H725.30 A1.9,1.9 0 0 0 725.30,180.88 H733 Z" fill="#b0504c"/>
<line x1="549" x2="736" y1="184.36" y2="184.36" stroke="#ececec" stroke-width="0.5"/>
<text x="552.4" y="191.64" class="pn">3D Systems Cube Printer, 2nd ...</text>
<path d="M634.70,187.79 H642.25 A1.95,1.95 0 0 1 642.25,191.69 H634.70 Z" fill="#666666"/>
<path d="M679.80,187.79 H682.65 A1.95,1.95 0 0 1 682.65,191.69 H679.80 Z" fill="#666666"/>
<rect x="732.8" y="187.84" width="6" height="3.8" fill="#08c290"/>
<line x1="549" x2="736" y1="195.12" y2="195.12" stroke="#ececec" stroke-width="0.5"/>
<text x="552.4" y="202.40" class="pn">Cubify CubeX 3D Printer Doubl...</text>
<path d="M634.70,198.55 H641.75 A1.95,1.95 0 0 1 641.75,202.45 H634.70 Z" fill="#666666"/>
<path d="M679.80,198.55 H681.35 A1.95,1.95 0 0 1 681.35,202.45 H679.80 Z" fill="#666666"/>
<circle cx="733.6" cy="200.50" r="1.5" fill="#08c290"/>
<line x1="549" x2="736" y1="205.88" y2="205.88" stroke="#ececec" stroke-width="0.5"/>
<text x="552.4" y="213.16" class="pn">Hon 4070 Series Pagoda Armle...</text>
<path d="M634.70,209.31 H641.15 A1.95,1.95 0 0 1 641.15,213.21 H634.70 Z" fill="#666666"/>
<path d="M679.80,209.31 H691.95 A1.95,1.95 0 0 1 691.95,213.21 H679.80 Z" fill="#666666"/>
<rect x="732.8" y="209.36" width="6" height="3.8" fill="#08c290"/>
<line x1="549" x2="736" y1="216.64" y2="216.64" stroke="#ececec" stroke-width="0.5"/>
<line x1="631.7" x2="631.7" y1="76" y2="231" stroke="#e6e6e6" stroke-width="0.5"/>
<line x1="676.6" x2="676.6" y1="76" y2="231" stroke="#e6e6e6" stroke-width="0.5"/>
<line x1="721.5" x2="721.5" y1="76" y2="231" stroke="#e6e6e6" stroke-width="0.5"/>
<text x="654" y="84.9" class="th" text-anchor="middle">SALES</text>
<text x="699" y="84.9" class="th" text-anchor="middle">QUANTITY</text>
<text x="730.5" y="84.9" class="th">PROFIT</text>
<text x="635.5" y="227.9" class="yl" text-anchor="middle">0K</text>
<text x="649.7" y="227.9" class="yl" text-anchor="middle">10K</text>
<text x="664.7" y="227.9" class="yl" text-anchor="middle">20K</text>
<text x="679.2" y="227.9" class="yl" text-anchor="middle">0</text>
<text x="695.3" y="227.9" class="yl" text-anchor="middle">20</text>
<text x="710.6" y="227.9" class="yl" text-anchor="middle">40</text>
<text x="731.6" y="227.9" class="yl" text-anchor="middle">0K</text>
<line x1="570.8" y1="276" x2="570.8" y2="407.5" stroke="#ececec" stroke-width="0.6"/>
<line x1="582.2" y1="276" x2="582.2" y2="406.5" stroke="#dcdcdc" stroke-width="0.5" stroke-dasharray="1.2,1.2"/>
<line x1="570.8" y1="407.2" x2="736" y2="407.2" stroke="#ececec" stroke-width="0.6"/>
<line x1="571" y1="359.8" x2="736" y2="359.8" stroke="#dcdcdc" stroke-width="0.5" stroke-dasharray="1.2,1.2"/>
<text x="567.2" y="295.9" class="yl" text-anchor="end">$6K</text>
<text x="567.2" y="317.8" class="yl" text-anchor="end">$4K</text>
<text x="567.2" y="339.9" class="yl" text-anchor="end">$2K</text>
<text x="567.2" y="362.0" class="yl" text-anchor="end">$0K</text>
<text x="567.2" y="383.6" class="yl" text-anchor="end">($2K)</text>
<text x="567.2" y="405.4" class="yl" text-anchor="end">($4K)</text>
<text x="582.2" y="415.9" class="yl" text-anchor="middle">$0K</text>
<text x="607.8" y="415.9" class="yl" text-anchor="middle">$2K</text>
<text x="633.4" y="415.9" class="yl" text-anchor="middle">$4K</text>
<text x="659.0" y="415.9" class="yl" text-anchor="middle">$6K</text>
<text x="684.6" y="415.9" class="yl" text-anchor="middle">$8K</text>
<text x="710.2" y="415.9" class="yl" text-anchor="middle">$10K</text>
<text x="735.8" y="415.9" class="yl" text-anchor="middle">$12K</text>
<text x="674" y="425.2" class="yl" text-anchor="middle">Sales</text>
<text x="552.6" y="341.6" class="yl" text-anchor="middle" transform="rotate(-90 552.6 341.6)">Profit</text>
<circle cx="626" cy="359.6" r="5.40" fill="#b0504c" stroke="#fff" stroke-width="0.5"/>
<circle cx="584.2" cy="363.4" r="1.80" fill="#b0504c" stroke="#fff" stroke-width="0.5"/>
<circle cx="588.5" cy="366.2" r="2.16" fill="#b0504c" stroke="#fff" stroke-width="0.5"/>
<circle cx="597.6" cy="365.8" r="1.92" fill="#b0504c" stroke="#fff" stroke-width="0.5"/>
<circle cx="602.5" cy="366.2" r="2.40" fill="#b0504c" stroke="#fff" stroke-width="0.5"/>
<circle cx="605.3" cy="367" r="2.16" fill="#b0504c" stroke="#fff" stroke-width="0.5"/>
<circle cx="616.3" cy="368.8" r="2.16" fill="#b0504c" stroke="#fff" stroke-width="0.5"/>
<circle cx="586.3" cy="364.8" r="2.40" fill="#b0504c" stroke="#fff" stroke-width="0.5"/>
<circle cx="687.3" cy="338.5" r="5.52" fill="#08c290" stroke="#fff" stroke-width="0.5"/>
<circle cx="691" cy="342.5" r="6.00" fill="#08c290" stroke="#fff" stroke-width="0.5"/>
<circle cx="657.1" cy="331.3" r="2.88" fill="#08c290" stroke="#fff" stroke-width="0.5"/>
<circle cx="651" cy="338.3" r="3.24" fill="#08c290" stroke="#fff" stroke-width="0.5"/>
<circle cx="661.6" cy="340.7" r="5.40" fill="#08c290" stroke="#fff" stroke-width="0.5"/>
<circle cx="657.4" cy="343.2" r="4.80" fill="#08c290" stroke="#fff" stroke-width="0.5"/>
<circle cx="656.8" cy="346.8" r="5.40" fill="#08c290" stroke="#fff" stroke-width="0.5"/>
<circle cx="627.3" cy="341.9" r="4.20" fill="#08c290" stroke="#fff" stroke-width="0.5"/>
<circle cx="633.9" cy="344.1" r="3.60" fill="#08c290" stroke="#fff" stroke-width="0.5"/>
<circle cx="637.9" cy="343.2" r="3.00" fill="#08c290" stroke="#fff" stroke-width="0.5"/>
<circle cx="631.3" cy="347.2" r="3.36" fill="#08c290" stroke="#fff" stroke-width="0.5"/>
<circle cx="635.7" cy="348.9" r="3.00" fill="#08c290" stroke="#fff" stroke-width="0.5"/>
<circle cx="630.8" cy="352" r="3.12" fill="#08c290" stroke="#fff" stroke-width="0.5"/>
<circle cx="639.2" cy="347.4" r="3.00" fill="#08c290" stroke="#fff" stroke-width="0.5"/>
<circle cx="617.6" cy="345.9" r="2.16" fill="#08c290" stroke="#fff" stroke-width="0.5"/>
<circle cx="609.3" cy="349.4" r="3.00" fill="#08c290" stroke="#fff" stroke-width="0.5"/>
<circle cx="614.1" cy="349.8" r="2.52" fill="#08c290" stroke="#fff" stroke-width="0.5"/>
<circle cx="620.7" cy="350.7" r="2.64" fill="#08c290" stroke="#fff" stroke-width="0.5"/>
<circle cx="625.1" cy="348.9" r="2.40" fill="#08c290" stroke="#fff" stroke-width="0.5"/>
<circle cx="628.9" cy="346.2" r="2.76" fill="#08c290" stroke="#fff" stroke-width="0.5"/>
<circle cx="613.2" cy="355.6" r="5.28" fill="#08c290" stroke="#fff" stroke-width="0.5"/>
<circle cx="622" cy="359.1" r="5.76" fill="#08c290" stroke="#fff" stroke-width="0.5"/>
<circle cx="603.5" cy="351.1" r="2.40" fill="#08c290" stroke="#fff" stroke-width="0.5"/>
<circle cx="605.3" cy="353.3" r="2.40" fill="#08c290" stroke="#fff" stroke-width="0.5"/>
<circle cx="600.9" cy="358.2" r="3.60" fill="#08c290" stroke="#fff" stroke-width="0.5"/>
<circle cx="606.1" cy="354.9" r="3.00" fill="#08c290" stroke="#fff" stroke-width="0.5"/>
<circle cx="642.8" cy="357.1" r="4.56" fill="#08c290" stroke="#fff" stroke-width="0.5"/>
<circle cx="650.5" cy="356.7" r="4.20" fill="#08c290" stroke="#fff" stroke-width="0.5"/>
<circle cx="592.7" cy="356.3" r="3.84" fill="#08c290" stroke="#fff" stroke-width="0.5"/>
<circle cx="587" cy="358.4" r="3.24" fill="#08c290" stroke="#fff" stroke-width="0.5"/>
<circle cx="583.2" cy="358.4" r="2.64" fill="#08c290" stroke="#fff" stroke-width="0.5"/>
<circle cx="599.7" cy="358.4" r="3.36" fill="#08c290" stroke="#fff" stroke-width="0.5"/>
<circle cx="597.3" cy="361.2" r="2.40" fill="#08c290" stroke="#fff" stroke-width="0.5"/>
<circle cx="596.9" cy="351.4" r="2.40" fill="#08c290" stroke="#fff" stroke-width="0.5"/>
<circle cx="600.4" cy="352.1" r="2.16" fill="#08c290" stroke="#fff" stroke-width="0.5"/>
<circle cx="603.9" cy="351.4" r="2.40" fill="#08c290" stroke="#fff" stroke-width="0.5"/>
<circle cx="608.9" cy="349.3" r="3.12" fill="#08c290" stroke="#fff" stroke-width="0.5"/>
<circle cx="596.2" cy="355.6" r="2.40" fill="#08c290" stroke="#fff" stroke-width="0.5"/>
<circle cx="590.5" cy="354.8" r="1.92" fill="#08c290" stroke="#fff" stroke-width="0.5"/>
<circle cx="594.5" cy="353.2" r="1.80" fill="#08c290" stroke="#fff" stroke-width="0.5"/>
<circle cx="586" cy="356" r="1.92" fill="#08c290" stroke="#fff" stroke-width="0.5"/>
<circle cx="617" cy="353.5" r="2.64" fill="#08c290" stroke="#fff" stroke-width="0.5"/>
<circle cx="609" cy="357.5" r="2.88" fill="#08c290" stroke="#fff" stroke-width="0.5"/>
<circle cx="607" cy="360.4" r="5.16" fill="#b0504c" stroke="#fff" stroke-width="0.5"/>
<circle cx="614.1" cy="363.9" r="3.96" fill="#b0504c" stroke="#fff" stroke-width="0.5"/>
<circle cx="592.7" cy="363.7" r="3.36" fill="#b0504c" stroke="#fff" stroke-width="0.5"/>
<circle cx="606.7" cy="370.9" r="2.16" fill="#b0504c" stroke="#fff" stroke-width="0.5"/>
<circle cx="592.2" cy="372.6" r="1.56" fill="#b0504c" stroke="#fff" stroke-width="0.5"/>
<circle cx="615.6" cy="371.6" r="4.56" fill="#b0504c" stroke="#fff" stroke-width="0.5"/>
<circle cx="617.5" cy="370.5" r="2.76" fill="#b0504c" stroke="#fff" stroke-width="0.5"/>
<circle cx="633.8" cy="371.6" r="6.00" fill="#b0504c" stroke="#fff" stroke-width="0.5"/>
<circle cx="644" cy="371.6" r="3.60" fill="#b0504c" stroke="#fff" stroke-width="0.5"/>
<circle cx="647.1" cy="371.6" r="3.96" fill="#b0504c" stroke="#fff" stroke-width="0.5"/>
<circle cx="655.9" cy="365.9" r="4.68" fill="#b0504c" stroke="#fff" stroke-width="0.5"/>
<circle cx="615.5" cy="397.7" r="3.36" fill="#b0504c" stroke="#fff" stroke-width="0.5"/>
</svg>
<div class="badge" style="left:79.9px;top:129.0px;width:58.4px;height:19.8px"><div class="bb">$530,938</div><div class="bs"><svg viewBox="0 0 3 3"><polygon points="-0.1,3.1 1.5,-0.2 3.1,3.1" fill="#fff"/></svg>20.4% from PY</div></div>
<div class="badge" style="left:79.9px;top:240.8px;width:58.4px;height:19.8px"><div class="bb">8,913</div><div class="bs"><svg viewBox="0 0 3 3"><polygon points="-0.1,3.1 1.5,-0.2 3.1,3.1" fill="#fff"/></svg>27.0% from PY</div></div>
<div class="badge" style="left:80.3px;top:353.0px;width:58.4px;height:19.8px"><div class="bb">$75,266</div><div class="bs"><svg viewBox="0 0 3 3"><polygon points="-0.1,3.1 1.5,-0.2 3.1,3.1" fill="#fff"/></svg>25.7% from PY</div></div>
</body></html>
